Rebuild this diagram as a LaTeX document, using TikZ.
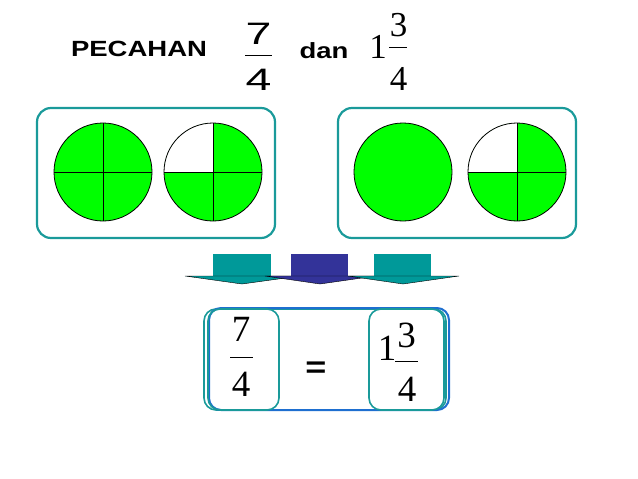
\documentclass[tikz,border=0pt]{standalone}
\usepackage{fontspec}
\setmainfont{Liberation Serif}
\newfontfamily\arial{Liberation Sans}
\begin{document}
\begin{tikzpicture}[x=1pt,y=-1pt]
\definecolor{tl}{HTML}{1A9A9A}
\definecolor{bl}{HTML}{1E6FD0}
\definecolor{tealarrow}{HTML}{009999}
\definecolor{bluearrow}{HTML}{333399}
\definecolor{gr}{HTML}{00FF00}
\tikzset{panel/.style={draw=tl,line width=2.2pt,rounded corners=14pt},
 circ/.style={draw=black,line width=0.8pt},
 qline/.style={black,line width=0.7pt},
 arr/.style={draw=black,line width=0.4pt},
 dig/.style={inner sep=0pt},
 sdig/.style={dig,font=\arial\fontsize{31}{34}\selectfont,xscale=1.5},
 tdig/.style={dig,font=\fontsize{35}{38}\selectfont},
 bdig/.style={dig,font=\fontsize{37}{40}\selectfont},
 lbl/.style={inner sep=0pt,font=\arial\bfseries\fontsize{22}{24}\selectfont,xscale=1.25}}
\useasboundingbox (0,0) rectangle (638,479);
% title
\node[lbl] (t1) at (139,49) {PECAHAN};
\node[sdig] (n1) at (258.5,34) {7};
\draw[line width=1pt] (245,55) -- (272,55);
\node[sdig] (d1) at (258.5,80) {4};
\node[lbl] (t2) at (324,51) {dan};
\node[tdig] (w2) at (378,47) {1};
\node[tdig] (n2) at (398.5,25) {3};
\draw[line width=0.8pt] (389,47) -- (407,47);
\node[tdig] (d2) at (398.5,78.5) {4};
% panels
\draw[panel] (37,108) rectangle (275,238);
\draw[panel] (338,108) rectangle (576,238);
% circles
\fill[gr] (103,172) circle (49);
\draw[circ] (103,172) circle (49);
\draw[qline] (54,172) -- (152,172) (103,123) -- (103,221);
\fill[gr] (213,172) circle (49);
\fill[white] (213,172) -- (164,172) arc (180:270:49) -- cycle;
\draw[circ] (213,172) circle (49);
\draw[qline] (164,172) -- (262,172) (213,123) -- (213,221);
\fill[gr] (403,172) circle (49);
\draw[circ] (403,172) circle (49);
\fill[gr] (517,172) circle (49);
\fill[white] (517,172) -- (468,172) arc (180:270:49) -- cycle;
\draw[circ] (517,172) circle (49);
\draw[qline] (468,172) -- (566,172) (517,123) -- (517,221);
% arrows
\fill[tealarrow] (213,254) rectangle (271,276);
\draw[arr,fill=tealarrow] (185,276) -- (300,276) -- (242,284) -- cycle;
\fill[bluearrow] (291,254) rectangle (348,276);
\draw[arr,fill=bluearrow] (265,276) -- (376,276) -- (320,284) -- cycle;
\fill[tealarrow] (374,254) rectangle (431,276);
\draw[arr,fill=tealarrow] (348,276) -- (459,276) -- (403,284) -- cycle;
% bottom
\draw[draw=tl,line width=1.6pt,rounded corners=12pt] (204,309) rectangle (446,410);
\draw[draw=bl,line width=2pt,rounded corners=12pt] (209,308) rectangle (449,410);
\draw[draw=tl,line width=1.6pt,rounded corners=12pt] (208,309) rectangle (279,410);
\draw[draw=tl,line width=1.6pt,rounded corners=12pt] (369,309) rectangle (444,410);
\node[bdig] (b1) at (241,329.5) {7};
\draw[line width=0.9pt] (230,357) -- (253,357);
\node[bdig] (b2) at (241,384) {4};
\node[inner sep=0pt,font=\arial\bfseries\fontsize{30}{32}\selectfont,xscale=1.2] (eq) at (316,369.5) {=};
\node[bdig] (b3) at (387,348) {1};
\node[bdig] (b4) at (406.5,335.5) {3};
\draw[line width=0.9pt] (395,361) -- (418,361);
\node[bdig] (b5) at (407,389) {4};
\end{tikzpicture}
\end{document}
